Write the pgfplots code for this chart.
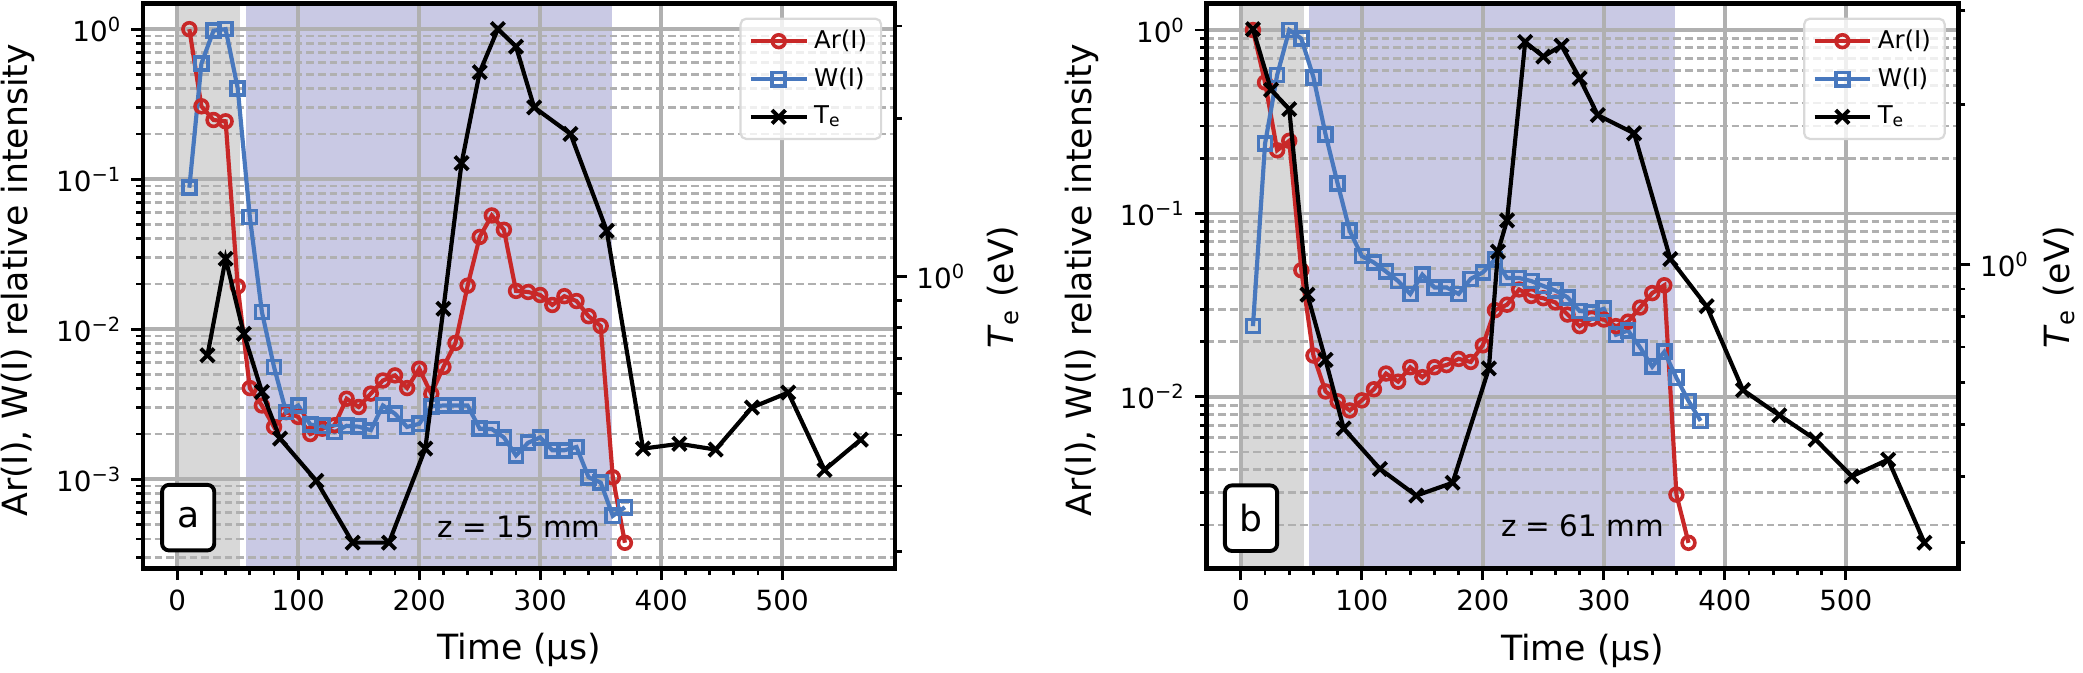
\documentclass[border=0pt]{standalone}
\usepackage{fontspec}
\setmainfont{DejaVu Sans}
\usepackage{pgfplots}
\pgfplotsset{compat=1.18}

\definecolor{arred}{RGB}{200,40,40}
\definecolor{wblue}{RGB}{72,120,190}
\definecolor{gridgray}{RGB}{176,176,176}
\definecolor{spangray}{RGB}{216,216,216}
\definecolor{spanblue}{RGB}{201,201,228}

\tikzset{
  panelbox/.style={draw=black, line width=1.4pt, rounded corners=2.5pt, fill=white,
    minimum width=18.8pt, minimum height=23.6pt, inner sep=0pt,
    font=\fontsize{13}{13}\selectfont},
  positiontext/.style={font=\fontsize{10.6}{12}\selectfont},
}

\pgfplotsset{
  twinbase/.style={
    scale only axis, width=270.7pt, height=203.4pt,
    xmin=-28.25, xmax=593.25,
    tick align=outside,
    major tick length=4.2pt, minor tick length=2.4pt,
    tick style={black, line width=1pt},
    axis line style={line width=1.6pt},
    tick label style={font=\fontsize{10}{12}\selectfont},
  },
  intensityaxis/.style={
    twinbase,
    tick pos=left,
    xtick={0,100,...,500}, minor x tick num=4,
    xticklabels={0,100,200,300,400,500},
    ytick={1e-3,1e-2,1e-1,1},
    yticklabels={10\textsuperscript{−3},10\textsuperscript{−2},10\textsuperscript{−1},10\textsuperscript{0}},
    minor ytick={3e-4,4e-4,5e-4,6e-4,7e-4,8e-4,9e-4,
                 2e-3,3e-3,4e-3,5e-3,6e-3,7e-3,8e-3,9e-3,
                 2e-2,3e-2,4e-2,5e-2,6e-2,7e-2,8e-2,9e-2,
                 2e-1,3e-1,4e-1,5e-1,6e-1,7e-1,8e-1,9e-1},
    xmajorgrids, ymajorgrids, yminorgrids,
    major grid style={gridgray, line width=1.35pt},
    minor grid style={gridgray, line width=1pt, dash pattern=on 2.7pt off 1.5pt},
    xlabel={Time (μs)},
    ylabel={Ar(I), W(I) relative intensity},
    every axis x label/.style={at={(axis description cs:0.5,-0.145)}, anchor=center,
      font=\fontsize{12.5}{14}\selectfont},
    every axis y label/.style={at={(axis description cs:-0.166,0.51)}, rotate=90,
      anchor=center, font=\fontsize{12.5}{14}\selectfont},
  },
  tempaxis/.style={
    twinbase,
    axis x line=none, axis y line*=right,
    ytick={1}, yticklabels={10\textsuperscript{0}},
    minor ytick={0.3,0.4,0.5,0.6,0.7,0.8,0.9,2,3},
    ylabel={\textit{T}\textsubscript{e} (eV)},
    every axis y label/.style={at={(axis description cs:1.1436,0.498)}, rotate=90,
      anchor=center, font=\fontsize{12.5}{14}\selectfont},
    legend cell align=left,
    legend image code/.code={
      \draw[mark repeat=2,mark phase=2] plot coordinates {(0pt,0pt) (10pt,0pt) (20pt,0pt)};},
    legend style={at={(axis description cs:0.983,0.975)}, anchor=north east,
      draw=black!15, line width=0.8pt, rounded corners=2pt,
      fill=white, fill opacity=0.8, text opacity=1, draw opacity=1,
      font=\fontsize{8.8}{10}\selectfont, row sep=1.5pt,
      inner xsep=3pt, inner ysep=2pt},
  },
  arline/.style={arred, line width=1.5pt, mark=o, mark size=2.3pt,
    mark options={line width=1.3pt, fill=none, solid}},
  wline/.style={wblue, line width=1.5pt, mark=square, mark size=2.35pt,
    mark options={line width=1.3pt, fill=none, solid}},
  teline/.style={black, line width=1.5pt, mark=x, mark size=3.4pt,
    mark options={line width=1.4pt, solid}},
}

\begin{document}
\begin{tikzpicture}
\useasboundingbox (0,0) rectangle (749.88pt,242.28pt);

%% ---------------- panel a: z = 15 mm ----------------
% shaded time windows (under the grid)
\begin{axis}[twinbase, hide axis, ymode=log, at={(51.5pt,37.62pt)}, anchor=south west,
  ymin=2.54e-4, ymax=1.483]
  \addplot[draw=none, fill=spangray]
    coordinates {(0,2.54e-4) (52,2.54e-4) (52,1.483) (0,1.483)};
  \addplot[draw=none, fill=spanblue]
    coordinates {(56.5,2.54e-4) (359,2.54e-4) (359,1.483) (56.5,1.483)};
\end{axis}

\begin{axis}[intensityaxis, ymode=log, at={(51.5pt,37.62pt)}, anchor=south west,
  ymin=2.54e-4, ymax=1.483]
  % Ar(I)
  \addplot[arline] table {
    t I
    10 1.0
    20 0.306
    30 0.248
    40 0.243
    50 0.0193
    60 0.00405
    70 0.0031
    80 0.00223
    90 0.0028
    100 0.0026
    110 0.0020
    120 0.00217
    130 0.00229
    140 0.00344
    150 0.00303
    160 0.00372
    170 0.00455
    180 0.00492
    190 0.00405
    200 0.00545
    210 0.0037
    220 0.0056
    230 0.0081
    240 0.0195
    250 0.0412
    260 0.0573
    270 0.046
    280 0.018
    290 0.0177
    300 0.0169
    310 0.0145
    320 0.0166
    330 0.0154
    340 0.0122
    350 0.0105
    360 0.00103
    370 0.000377
  };
  % W(I)
  \addplot[wline] table {
    t I
    10 0.0877
    20 0.59
    30 0.977
    40 1.0
    50 0.403
    60 0.0561
    70 0.0130
    80 0.0056
    90 0.0028
    100 0.0031
    110 0.00231
    120 0.00227
    130 0.00206
    140 0.00227
    150 0.00224
    160 0.00212
    170 0.0031
    180 0.00273
    190 0.00223
    200 0.00234
    210 0.00306
    220 0.0031
    230 0.0031
    240 0.0031
    250 0.00217
    260 0.00216
    270 0.0019
    280 0.00144
    290 0.00175
    300 0.0019
    310 0.00156
    320 0.00156
    330 0.00164
    340 0.00103
    350 0.00095
    360 0.00057
    370 0.00065
  };
  \node[panelbox] at (rel axis cs:0.06,0.09) {a};
  \node[positiontext] at (rel axis cs:0.5,0.074) {z = 15 mm};
\end{axis}

\begin{axis}[tempaxis, ymode=log, at={(51.5pt,37.62pt)}, anchor=south west,
  ymin=0.2786, ymax=3.31]
  \addlegendimage{arline}\addlegendentry{Ar(I)}
  \addlegendimage{wline}\addlegendentry{W(I)}
  \addplot[teline] table {
    t T
    25 0.709
    40 1.082
    55 0.779
    70 0.604
    85 0.492
    115 0.409
    145 0.312
    175 0.312
    205 0.471
    220 0.869
    235 1.645
    250 2.45
    265 2.96
    280 2.74
    295 2.10
    325 1.87
    355 1.223
    385 0.471
    415 0.481
    445 0.469
    475 0.564
    505 0.602
    535 0.429
    565 0.490
  };
  \addlegendentry{T\textsubscript{e}}
\end{axis}

%% ---------------- panel b: z = 61 mm ----------------
\begin{axis}[twinbase, hide axis, ymode=log, at={(434.4pt,37.62pt)}, anchor=south west,
  ymin=1.159e-3, ymax=1.396]
  \addplot[draw=none, fill=spangray]
    coordinates {(0,1.159e-3) (52,1.159e-3) (52,1.396) (0,1.396)};
  \addplot[draw=none, fill=spanblue]
    coordinates {(56.5,1.159e-3) (359,1.159e-3) (359,1.396) (56.5,1.396)};
\end{axis}

\begin{axis}[intensityaxis, ymode=log, at={(434.4pt,37.62pt)}, anchor=south west,
  ymin=1.159e-3, ymax=1.396]
  % Ar(I)
  \addplot[arline] table {
    t I
    10 1.0
    20 0.518
    30 0.221
    40 0.249
    50 0.049
    60 0.0168
    70 0.0107
    80 0.00945
    90 0.00843
    100 0.00957
    110 0.0110
    120 0.0134
    130 0.0121
    140 0.0145
    150 0.0128
    160 0.0145
    170 0.0149
    180 0.0161
    190 0.0155
    200 0.0191
    210 0.0297
    220 0.0318
    230 0.0385
    240 0.0355
    250 0.0345
    260 0.0327
    270 0.0281
    280 0.0243
    290 0.0267
    300 0.0264
    310 0.0243
    320 0.0257
    330 0.0307
    340 0.0368
    350 0.0406
    360 0.00293
    370 0.0016
  };
  % W(I)
  \addplot[wline] table {
    t I
    10 0.0243
    20 0.24
    30 0.568
    40 1.0
    50 0.898
    60 0.553
    70 0.270
    80 0.1455
    90 0.0804
    100 0.0585
    110 0.054
    120 0.0482
    130 0.0428
    140 0.0364
    150 0.0464
    160 0.0395
    170 0.0395
    180 0.0364
    190 0.044
    200 0.0477
    210 0.0561
    220 0.0445
    230 0.0445
    240 0.0428
    250 0.0402
    260 0.038
    270 0.0349
    280 0.0294
    290 0.0289
    300 0.0302
    310 0.0218
    320 0.0230
    330 0.0186
    340 0.0146
    350 0.0176
    360 0.0127
    370 0.0095
    380 0.0074
  };
  \node[panelbox] at (rel axis cs:0.059,0.089) {b};
  \node[positiontext] at (rel axis cs:0.5,0.075) {z = 61 mm};
\end{axis}

\begin{axis}[tempaxis, ymode=log, at={(434.4pt,37.62pt)}, anchor=south west,
  ymin=0.2684, ymax=3.096,
  every axis y label/.style={at={(axis description cs:1.134,0.498)}, rotate=90,
    anchor=center, font=\fontsize{12.5}{14}\selectfont}]
  \addlegendimage{arline}\addlegendentry{Ar(I)}
  \addlegendimage{wline}\addlegendentry{W(I)}
  \addplot[teline] table {
    t T
    10 2.77
    25 2.13
    40 1.96
    55 0.878
    70 0.662
    85 0.492
    115 0.413
    145 0.368
    175 0.389
    205 0.638
    212.5 1.058
    220 1.211
    235 2.62
    250 2.46
    265 2.58
    280 2.24
    295 1.91
    325 1.765
    355 1.024
    385 0.835
    415 0.581
    445 0.521
    475 0.469
    505 0.400
    535 0.430
    565 0.300
  };
  \addlegendentry{T\textsubscript{e}}
\end{axis}
\end{tikzpicture}
\end{document}
